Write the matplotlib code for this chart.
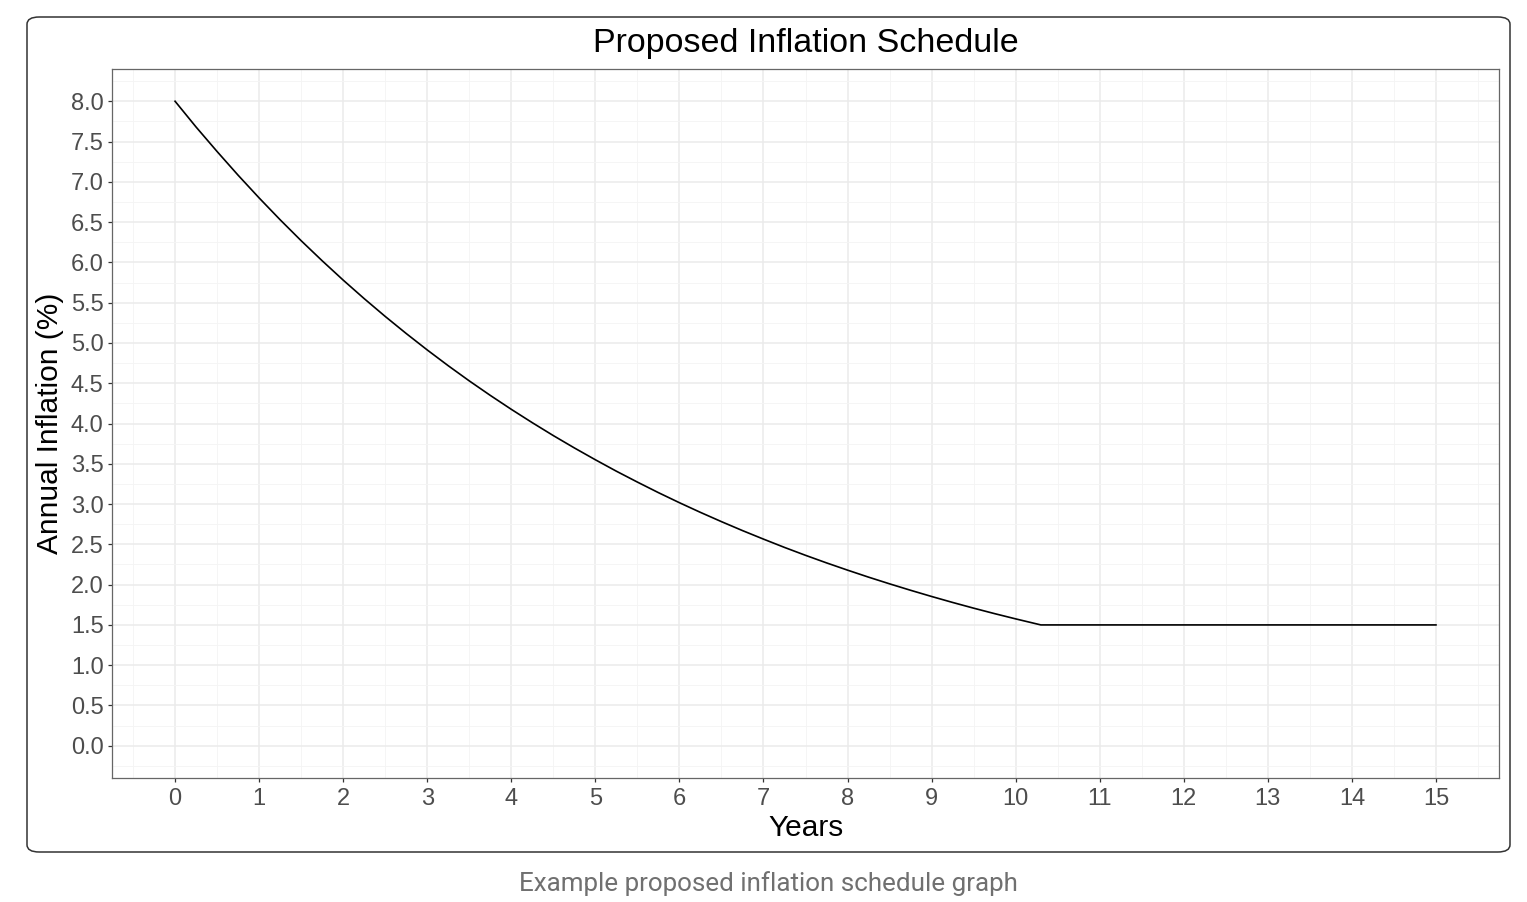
import numpy as np
import matplotlib
matplotlib.use("Agg")
import matplotlib.pyplot as plt
from matplotlib.patches import FancyBboxPatch
from matplotlib.ticker import MultipleLocator

# valeurs (inflation annuelle en %)
annees = [0, 0.25, 0.5, 0.75, 1, 1.25, 1.5, 1.75, 2, 2.25, 2.5, 2.75, 3, 3.25,
          3.5, 3.75, 4, 4.25, 4.5, 4.75, 5, 5.25, 5.5, 5.75, 6, 6.25, 6.5, 6.75,
          7, 7.25, 7.5, 7.75, 8, 8.25, 8.5, 8.75, 9, 9.25, 9.5, 9.75, 10, 10.3, 15]
inflation = [8.0, 7.680, 7.376, 7.082, 6.800, 6.529, 6.269, 6.020, 5.780, 5.550,
             5.329, 5.117, 4.913, 4.717, 4.529, 4.349, 4.176, 4.010, 3.850, 3.697,
             3.550, 3.408, 3.273, 3.142, 3.017, 2.897, 2.782, 2.671, 2.565, 2.462,
             2.364, 2.270, 2.180, 2.093, 2.010, 1.930, 1.853, 1.779, 1.708, 1.640,
             1.575, 1.5, 1.5]

x_ticks = list(range(0, 16))
y_ticks = [0.0, 0.5, 1.0, 1.5, 2.0, 2.5, 3.0, 3.5, 4.0, 4.5, 5.0, 5.5, 6.0, 6.5, 7.0, 7.5, 8.0]

titre = "Proposed Inflation Schedule"
legende = "Example proposed inflation schedule graph"

plt.rcParams['font.family'] = ['Liberation Sans', 'DejaVu Sans']

W, H = 1527, 902
fig = plt.figure(figsize=(W / 100, H / 100), dpi=100)

# cadre arrondi autour du graphique
cadre = FancyBboxPatch((27 / W, 1 - 852 / H), (1510 - 27) / W, (852 - 17) / H,
                       boxstyle="round,pad=0,rounding_size=0.008",
                       transform=fig.transFigure, facecolor='none',
                       edgecolor='#333333', linewidth=1.1, zorder=-1)
fig.patches.append(cadre)

ax = fig.add_axes([112 / W, 1 - 778 / H, (1499 - 112) / W, (778 - 69) / H])
ax.plot(annees, inflation, color='black', linewidth=1.2, zorder=3)

ax.set_xlim(-0.75, 15.75)
ax.set_ylim(-0.4, 8.4)
ax.set_xticks(x_ticks)
ax.set_yticks(y_ticks)
ax.set_yticklabels([f"{v:.1f}" for v in y_ticks])
ax.xaxis.set_minor_locator(MultipleLocator(0.5))
ax.yaxis.set_minor_locator(MultipleLocator(0.25))

ax.grid(True, which='major', color='#EBEBEB', linewidth=1.1, zorder=0)
ax.grid(True, which='minor', color='#F4F4F4', linewidth=0.6, zorder=0)
ax.set_axisbelow(True)

ax.tick_params(which='major', length=3, width=0.9, color='#333333',
               labelcolor='#4D4D4D', labelsize=17, pad=3)
ax.tick_params(axis='x', which='major', pad=4)
ax.tick_params(which='minor', length=0)
for s in ax.spines.values():
    s.set_color('#666666')
    s.set_linewidth(0.9)

fig.text(806 / W, 1 - 52 / H, titre, ha='center', va='baseline',
         fontsize=24.5, color='black')
fig.text(806 / W, 1 - 836 / H, "Years", ha='center', va='baseline',
         fontsize=21.5, color='black')
fig.text(50 / W, 1 - 423 / H, "Annual Inflation (%)", ha='center', va='center',
         rotation=90, fontsize=21.5, color='black')
fig.text(768 / W, 1 - 891 / H, legende, ha='center', va='baseline',
         fontsize=18.7, color='#707070', family=['Roboto', 'DejaVu Sans'])

fig.savefig("out.png", dpi=100)
